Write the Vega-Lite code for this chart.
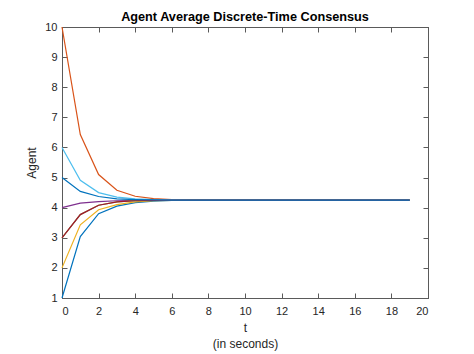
{
"$schema": "https://vega.github.io/schema/vega-lite/v6.json",
"width": 366, "height": 271,
"autosize": "none",
"padding": {"left": 62, "top": 27, "right": 46, "bottom": 56},
"background": "white",
"title": {"text": "Agent Average Discrete-Time Consensus", "font": "Liberation Sans", "fontSize": 12.7, "fontWeight": "bold", "color": "#000000", "offset": -3},
"config": {"view": {"stroke": "#5a5a5a", "strokeWidth": 1}, "font": "Liberation Sans"},
"data": {"values": [
{"t":0,"a":"a1","v":1},{"t":1,"a":"a1","v":3.04},{"t":2,"a":"a1","v":3.8},{"t":3,"a":"a1","v":4.05},{"t":4,"a":"a1","v":4.17},{"t":5,"a":"a1","v":4.22},{"t":6,"a":"a1","v":4.24},{"t":7,"a":"a1","v":4.25},{"t":8,"a":"a1","v":4.25},{"t":9,"a":"a1","v":4.25},{"t":10,"a":"a1","v":4.25},{"t":11,"a":"a1","v":4.25},{"t":12,"a":"a1","v":4.25},{"t":13,"a":"a1","v":4.25},{"t":14,"a":"a1","v":4.25},{"t":15,"a":"a1","v":4.25},{"t":16,"a":"a1","v":4.25},{"t":17,"a":"a1","v":4.25},{"t":18,"a":"a1","v":4.25},{"t":19,"a":"a1","v":4.25},
{"t":0,"a":"a2","v":10},{"t":1,"a":"a2","v":6.43},{"t":2,"a":"a2","v":5.1},{"t":3,"a":"a2","v":4.58},{"t":4,"a":"a2","v":4.38},{"t":5,"a":"a2","v":4.3},{"t":6,"a":"a2","v":4.27},{"t":7,"a":"a2","v":4.26},{"t":8,"a":"a2","v":4.25},{"t":9,"a":"a2","v":4.25},{"t":10,"a":"a2","v":4.25},{"t":11,"a":"a2","v":4.25},{"t":12,"a":"a2","v":4.25},{"t":13,"a":"a2","v":4.25},{"t":14,"a":"a2","v":4.25},{"t":15,"a":"a2","v":4.25},{"t":16,"a":"a2","v":4.25},{"t":17,"a":"a2","v":4.25},{"t":18,"a":"a2","v":4.25},{"t":19,"a":"a2","v":4.25},
{"t":0,"a":"a3","v":2},{"t":1,"a":"a3","v":3.43},{"t":2,"a":"a3","v":3.93},{"t":3,"a":"a3","v":4.1},{"t":4,"a":"a3","v":4.19},{"t":5,"a":"a3","v":4.23},{"t":6,"a":"a3","v":4.24},{"t":7,"a":"a3","v":4.25},{"t":8,"a":"a3","v":4.25},{"t":9,"a":"a3","v":4.25},{"t":10,"a":"a3","v":4.25},{"t":11,"a":"a3","v":4.25},{"t":12,"a":"a3","v":4.25},{"t":13,"a":"a3","v":4.25},{"t":14,"a":"a3","v":4.25},{"t":15,"a":"a3","v":4.25},{"t":16,"a":"a3","v":4.25},{"t":17,"a":"a3","v":4.25},{"t":18,"a":"a3","v":4.25},{"t":19,"a":"a3","v":4.25},
{"t":0,"a":"a4","v":4},{"t":1,"a":"a4","v":4.15},{"t":2,"a":"a4","v":4.2},{"t":3,"a":"a4","v":4.23},{"t":4,"a":"a4","v":4.24},{"t":5,"a":"a4","v":4.25},{"t":6,"a":"a4","v":4.25},{"t":7,"a":"a4","v":4.25},{"t":8,"a":"a4","v":4.25},{"t":9,"a":"a4","v":4.25},{"t":10,"a":"a4","v":4.25},{"t":11,"a":"a4","v":4.25},{"t":12,"a":"a4","v":4.25},{"t":13,"a":"a4","v":4.25},{"t":14,"a":"a4","v":4.25},{"t":15,"a":"a4","v":4.25},{"t":16,"a":"a4","v":4.25},{"t":17,"a":"a4","v":4.25},{"t":18,"a":"a4","v":4.25},{"t":19,"a":"a4","v":4.25},
{"t":0,"a":"a5","v":3},{"t":1,"a":"a5","v":3.77},{"t":2,"a":"a5","v":4.08},{"t":3,"a":"a5","v":4.19},{"t":4,"a":"a5","v":4.23},{"t":5,"a":"a5","v":4.24},{"t":6,"a":"a5","v":4.25},{"t":7,"a":"a5","v":4.25},{"t":8,"a":"a5","v":4.25},{"t":9,"a":"a5","v":4.25},{"t":10,"a":"a5","v":4.25},{"t":11,"a":"a5","v":4.25},{"t":12,"a":"a5","v":4.25},{"t":13,"a":"a5","v":4.25},{"t":14,"a":"a5","v":4.25},{"t":15,"a":"a5","v":4.25},{"t":16,"a":"a5","v":4.25},{"t":17,"a":"a5","v":4.25},{"t":18,"a":"a5","v":4.25},{"t":19,"a":"a5","v":4.25},
{"t":0,"a":"a6","v":6},{"t":1,"a":"a6","v":4.91},{"t":2,"a":"a6","v":4.5},{"t":3,"a":"a6","v":4.35},{"t":4,"a":"a6","v":4.29},{"t":5,"a":"a6","v":4.27},{"t":6,"a":"a6","v":4.26},{"t":7,"a":"a6","v":4.25},{"t":8,"a":"a6","v":4.25},{"t":9,"a":"a6","v":4.25},{"t":10,"a":"a6","v":4.25},{"t":11,"a":"a6","v":4.25},{"t":12,"a":"a6","v":4.25},{"t":13,"a":"a6","v":4.25},{"t":14,"a":"a6","v":4.25},{"t":15,"a":"a6","v":4.25},{"t":16,"a":"a6","v":4.25},{"t":17,"a":"a6","v":4.25},{"t":18,"a":"a6","v":4.25},{"t":19,"a":"a6","v":4.25},
{"t":0,"a":"a7","v":3},{"t":1,"a":"a7","v":3.77},{"t":2,"a":"a7","v":4.08},{"t":3,"a":"a7","v":4.19},{"t":4,"a":"a7","v":4.23},{"t":5,"a":"a7","v":4.24},{"t":6,"a":"a7","v":4.25},{"t":7,"a":"a7","v":4.25},{"t":8,"a":"a7","v":4.25},{"t":9,"a":"a7","v":4.25},{"t":10,"a":"a7","v":4.25},{"t":11,"a":"a7","v":4.25},{"t":12,"a":"a7","v":4.25},{"t":13,"a":"a7","v":4.25},{"t":14,"a":"a7","v":4.25},{"t":15,"a":"a7","v":4.25},{"t":16,"a":"a7","v":4.25},{"t":17,"a":"a7","v":4.25},{"t":18,"a":"a7","v":4.25},{"t":19,"a":"a7","v":4.25},
{"t":0,"a":"a8","v":5},{"t":1,"a":"a8","v":4.54},{"t":2,"a":"a8","v":4.37},{"t":3,"a":"a8","v":4.29},{"t":4,"a":"a8","v":4.27},{"t":5,"a":"a8","v":4.26},{"t":6,"a":"a8","v":4.25},{"t":7,"a":"a8","v":4.25},{"t":8,"a":"a8","v":4.25},{"t":9,"a":"a8","v":4.25},{"t":10,"a":"a8","v":4.25},{"t":11,"a":"a8","v":4.25},{"t":12,"a":"a8","v":4.25},{"t":13,"a":"a8","v":4.25},{"t":14,"a":"a8","v":4.25},{"t":15,"a":"a8","v":4.25},{"t":16,"a":"a8","v":4.25},{"t":17,"a":"a8","v":4.25},{"t":18,"a":"a8","v":4.25},{"t":19,"a":"a8","v":4.25}
]},
"layer": [
{"mark": {"type": "line", "strokeWidth": 1.2},
 "encoding": {
  "x": {"field": "t", "type": "quantitative", "scale": {"domain": [0, 20], "nice": false, "zero": false},
        "axis": {"orient": "bottom", "values": [0,2,4,6,8,10,12,14,16,18,20], "grid": false, "tickSize": -5, "labelPadding": 12, "labelFontSize": 11, "labelColor": "#262626", "labelFont": "Liberation Sans", "domainColor": "#5a5a5a", "tickColor": "#5a5a5a",
                 "title": ["t", "(in seconds)"], "titleFont": "Liberation Sans", "titleFontSize": 12, "titleFontWeight": "normal", "titleColor": "#262626", "titlePadding": 6, "titleLineHeight": 16}},
  "y": {"field": "v", "type": "quantitative", "scale": {"domain": [1, 10], "nice": false, "zero": false},
        "axis": {"orient": "left", "values": [1,2,3,4,5,6,7,8,9,10], "grid": false, "tickSize": -5, "labelPadding": 10, "labelFontSize": 11, "labelColor": "#262626", "labelFont": "Liberation Sans", "domainColor": "#5a5a5a", "tickColor": "#5a5a5a",
                 "title": "Agent", "titleFont": "Liberation Sans", "titleFontSize": 12, "titleFontWeight": "normal", "titleColor": "#262626", "titlePadding": 6}},
  "color": {"field": "a", "type": "nominal", "legend": null,
            "scale": {"domain": ["a1","a2","a3","a4","a5","a6","a7","a8"], "range": ["#0072BD","#D95319","#EDB120","#7E2F8E","#77AC30","#4DBEEE","#A2142F","#0072BD"]}}
 }},
{"mark": {"type": "line", "opacity": 0},
 "encoding": {
  "x": {"field": "t", "type": "quantitative", "scale": {"domain": [0, 20], "nice": false, "zero": false},
        "axis": {"orient": "top", "values": [0,2,4,6,8,10,12,14,16,18,20], "grid": false, "labels": false, "tickSize": -5, "domainColor": "#5a5a5a", "tickColor": "#5a5a5a", "title": null}},
  "y": {"field": "v", "type": "quantitative", "scale": {"domain": [1, 10], "nice": false, "zero": false},
        "axis": {"orient": "right", "values": [1,2,3,4,5,6,7,8,9,10], "grid": false, "labels": false, "tickSize": -5, "domainColor": "#5a5a5a", "tickColor": "#5a5a5a", "title": null}},
  "detail": {"field": "a"}
 }}
],
"resolve": {"scale": {"x": "independent", "y": "independent"}, "axis": {"x": "independent", "y": "independent"}}
}
